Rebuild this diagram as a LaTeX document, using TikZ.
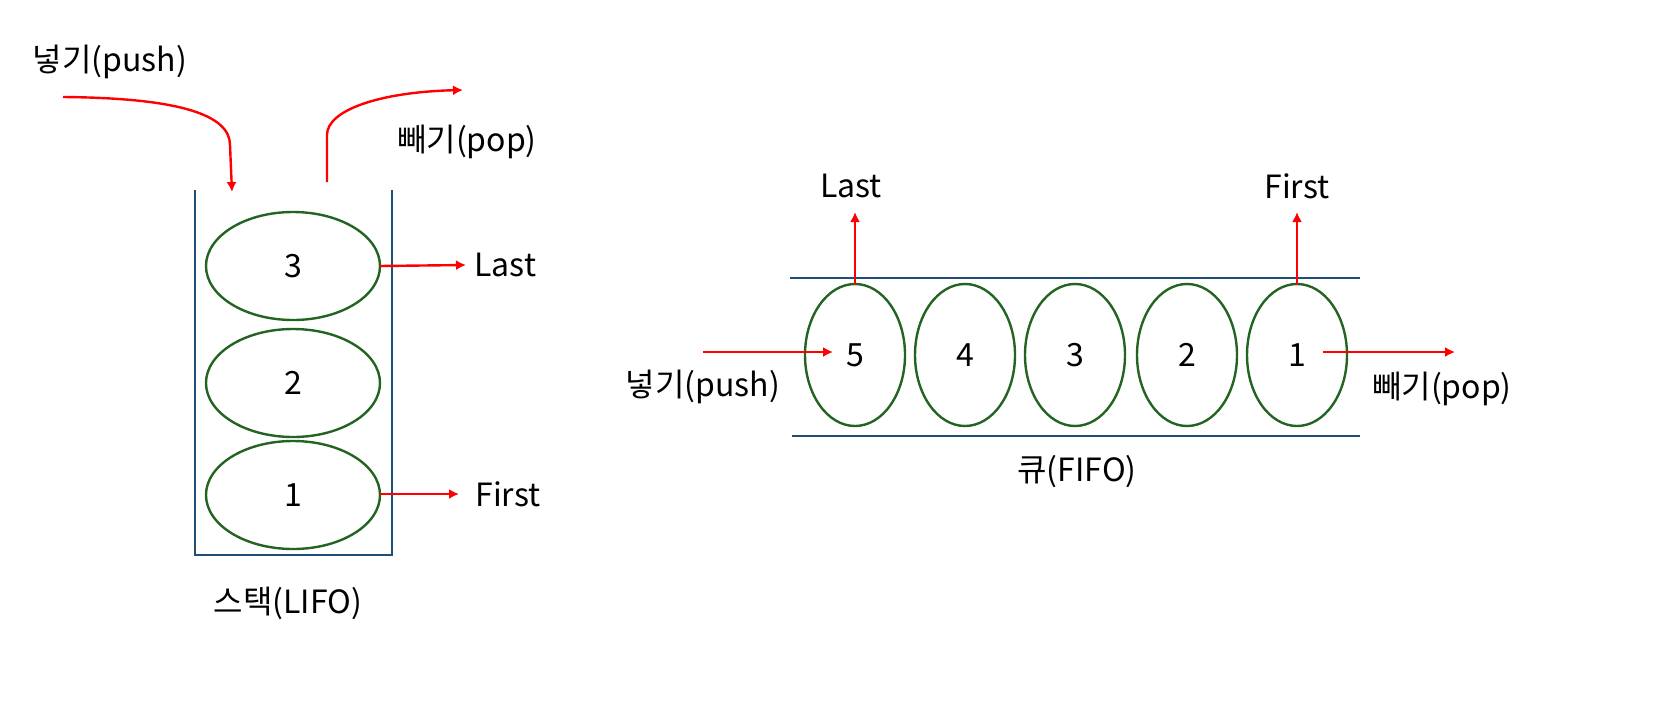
\documentclass[tikz,border=0pt]{standalone}
\usepackage{fontspec}
\setmainfont{Noto Sans CJK KR}
\usetikzlibrary{arrows.meta}
\definecolor{wall}{RGB}{31,78,121}
\definecolor{egg}{RGB}{35,100,35}
\tikzset{
  wallline/.style={draw=wall,line width=1.2pt},
  redarrow/.style={draw=red,line width=1.2pt,-{Latex[length=5pt,width=5pt]}},
  lbl/.style={font=\fontsize{16}{19}\selectfont,inner sep=0pt}
}
\begin{document}
\begin{tikzpicture}[x=0.5pt,y=-0.5pt]
\useasboundingbox (0,0) rectangle (1669,712);
% stack
\draw[wallline] (195,190) -- (195,555) -- (392,555) -- (392,190);
\foreach \n/\y in {3/266,2/383,1/495}{
  \draw[draw=egg,line width=1.2pt] (293,\y) ellipse [x radius=87, y radius=54];
  \node[lbl] (s\n) at (293,\y) {\n};
}
\coordinate (s3r) at (380,266); \coordinate (s1r) at (380,494);
\node[lbl,anchor=west] (slast) at (474,265) {Last};
\node[lbl,anchor=west] (sfirst) at (475,494) {First};
\draw[redarrow] (s3r) -- ([xshift=-4pt]slast.west);
\draw[redarrow] (s1r) -- ([xshift=-8pt]sfirst.west);
\node[lbl] (stk) at (288,603) {스택(LIFO)};
\node[lbl] (spush) at (110,62) {넣기(push)};
\node[lbl] (spop) at (467,142) {빼기(pop)};
\coordinate (p0) at (63,97); \coordinate (p1) at (232,192);
\draw[redarrow] (p0) .. controls (180,98) and (230,115) .. (230,145) -- (p1);
\coordinate (q0) at (327,182); \coordinate (q1) at (463,90);
\draw[redarrow] (q0) -- (327,135) .. controls (327,110) and (380,92) .. (q1);
% queue
\draw[wallline] (790,278) -- (1360,278);
\draw[wallline] (792,436) -- (1360,436);
\foreach \n/\x in {5/855,4/965,3/1075,2/1187,1/1297}{
  \draw[draw=egg,line width=1.2pt] (\x,355) ellipse [x radius=50, y radius=71];
  \node[lbl] (q\n) at (\x,355) {\n};
}
\node[lbl] (qlast) at (851,186) {Last};
\node[lbl] (qfirst) at (1297,186) {First};
\coordinate (l0) at (855,285); \coordinate (f0) at (1297,285);
\draw[redarrow] (l0) -- (855,212);
\draw[redarrow] (f0) -- (1297,212);
\node[lbl] (qpush) at (703,387) {넣기(push)};
\node[lbl] (qpop) at (1442,389) {빼기(pop)};
\coordinate (a0) at (703,352); \coordinate (a1) at (833,352);
\draw[redarrow] (a0) -- (a1);
\coordinate (b0) at (1323,352); \coordinate (b1) at (1455,352);
\draw[redarrow] (b0) -- (b1);
\node[lbl] (que) at (1077,472) {큐(FIFO)};
\end{tikzpicture}
\end{document}
